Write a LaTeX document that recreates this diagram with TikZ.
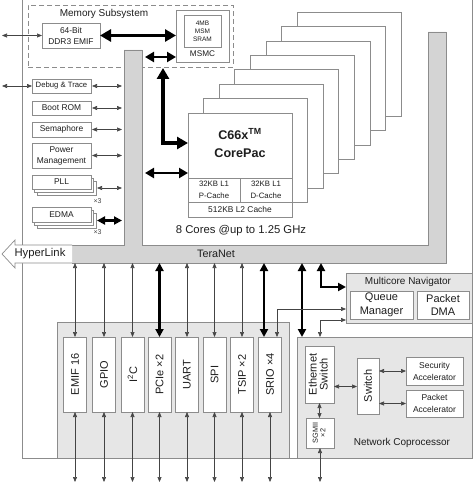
\documentclass[tikz,border=0pt]{standalone}
\usepackage{fontspec}
\setmainfont{Liberation Sans}
\usetikzlibrary{arrows.meta,calc}
\definecolor{linegray}{HTML}{8C8C8C}
\definecolor{bargray}{HTML}{D4D4D4}
\definecolor{panelgray}{HTML}{E6E6E6}
\definecolor{txt}{HTML}{1E1E1E}
\definecolor{arrgray}{HTML}{444444}
\newcommand\fsz[2]{\fontsize{#1}{#2}\selectfont}
\begin{document}
\begin{tikzpicture}[x=1pt,y=-1pt,
  box/.style={draw=linegray, line width=0.7pt, fill=white, inner sep=0pt, outer sep=0pt, align=center, text=txt, anchor=north west},
  panel/.style={draw=linegray, line width=0.7pt, fill=panelgray, inner sep=0pt, outer sep=0pt, anchor=north west},
  ghost/.style={inner sep=0pt, outer sep=0pt, anchor=north west},
  lbl/.style={text=txt, inner sep=0pt, align=center},
  thinarr/.style={draw=arrgray, line width=0.6pt, {Triangle[length=5pt,width=4pt]}-{Triangle[length=5pt,width=4pt]}},
  thkarr/.style={draw=black, line width=3.2pt, {Triangle[length=11pt,width=12pt]}-{Triangle[length=11pt,width=12pt]}},
  bigarr/.style={draw=black, line width=2.6pt, {Triangle[length=9pt,width=10pt]}-{Triangle[length=9pt,width=10pt]}},
  medarr/.style={draw=black, line width=2.2pt, {Triangle[length=8pt,width=8pt]}-{Triangle[length=8pt,width=8pt]}},
]
\useasboundingbox (0,0) rectangle (474,484);
\coordinate (extL) at (2,0);
\coordinate (bot) at (0,482);

% outer frame
\draw[linegray, line width=0.7pt] (22,0) -- (22,458) -- (472,458) -- (472,0);

% memory subsystem
\node[ghost, draw=linegray, dash pattern=on 5pt off 3pt, line width=0.9pt, minimum width=205pt, minimum height=62pt] (mem) at (28,5) {};
\node[lbl, font=\fsz{10}{12}] (memlbl) at (104,14) {Memory Subsystem};
\node[box, minimum width=58pt, minimum height=25pt, font=\fsz{8.4}{11}] (ddr) at (42,23) {64-Bit\\DDR3 EMIF};
\node[box, minimum width=53pt, minimum height=52pt] (msmc) at (176,10) {};
\node[box, minimum width=37pt, minimum height=32pt, font=\fsz{6.5}{8}] (sram) at (184,15) {4MB\\MSM\\SRAM};
\node[lbl, font=\fsz{8.2}{10}] (msmclbl) at (202.5,54) {MSMC};

% cores stack
\foreach \k in {7,6,...,1} {
  \node[box, minimum width=104pt, minimum height=104pt] (core\k) at ({188+15.6*\k},{113-14.4*\k}) {};
}
\node[box, minimum width=104pt, minimum height=104pt] (core) at (188,113) {};
\draw[linegray, line width=0.7pt] (188,178) -- (292,178) (188,202) -- (292,202) (240,178) -- (240,202);
\node[lbl, font=\bfseries\fsz{12.6}{18}] (corelbl) at (240,143) {C66x\textsuperscript{TM}\\CorePac};
\node[lbl, font=\fsz{7.8}{12.5}] (l1p) at (214,190) {32KB L1\\P-Cache};
\node[lbl, font=\fsz{7.8}{12.5}] (l1d) at (266,190) {32KB L1\\D-Cache};
\node[lbl, font=\fsz{8.4}{10}] (l2) at (240,209.5) {512KB L2 Cache};
\node[lbl, font=\fsz{11.3}{13}] (cores) at (241,231) {8 Cores @up to 1.25 GHz};

% TeraNet
\fill[bargray] (72,245) -- (124,245) -- (124,50) -- (142,50) -- (142,245) -- (428,245) -- (428,32) -- (446,32) -- (446,263) -- (72,263) -- cycle;
\draw[linegray, line width=0.7pt] (72,245) -- (124,245) -- (124,50) -- (142,50) -- (142,245) -- (428,245) -- (428,32) -- (446,32) -- (446,263) -- (72,263);
\node[ghost, minimum width=374pt, minimum height=18pt] (tn) at (72,245) {};
\node[ghost, minimum width=18pt, minimum height=213pt] (lbar) at (124,50) {};
\draw[draw=linegray, fill=white, line width=0.7pt] (72,245) -- (15,245) -- (15,240) -- (2,254) -- (15,268) -- (15,263) -- (72,263);
\node[lbl, font=\fsz{11.3}{13}] (hl) at (40,254) {HyperLink};
\node[lbl, font=\fsz{10.8}{13}] (tnlbl) at (216,254) {TeraNet};

% left boxes
\node[box, minimum width=59pt, minimum height=14pt, font=\fsz{7.7}{9}] (dbg) at (32,79) {Debug \& Trace};
\node[box, minimum width=59pt, minimum height=14pt, font=\fsz{8.4}{10}] (boot) at (32,101) {Boot ROM};
\node[box, minimum width=59pt, minimum height=15pt, font=\fsz{8.4}{10}] (sema) at (32,122) {Semaphore};
\node[box, minimum width=59pt, minimum height=25pt, font=\fsz{8.4}{11}] (pwr) at (32,143) {Power\\Management};
\node[box, minimum width=59pt, minimum height=14pt] (pll2) at (37,181) {};
\node[box, minimum width=59pt, minimum height=14pt] (pll1) at (34.5,178) {};
\node[box, minimum width=59pt, minimum height=14pt, font=\fsz{8.4}{10}] (pll) at (32,175) {PLL};
\node[lbl, text=arrgray, font=\fsz{7}{8}] (pllx) at (97.5,201) {×3};
\node[box, minimum width=59pt, minimum height=15pt] (edma2) at (37,213) {};
\node[box, minimum width=59pt, minimum height=15pt] (edma1) at (34.5,210) {};
\node[box, minimum width=59pt, minimum height=15pt, font=\fsz{8.4}{10}] (edma) at (32,207) {EDMA};
\node[lbl, text=arrgray, font=\fsz{7}{8}] (edmax) at (97.5,232) {×3};

% left arrows
\draw[thinarr] (ddr.west -| extL) -- (ddr.west);
\draw[thinarr] (dbg.west -| extL) -- (dbg.west);
\foreach \b in {dbg,boot,sema,pwr,pll2} {
  \draw[thinarr, shorten <=1pt, shorten >=2pt] (\b.east) -- (\b.east -| lbar.west);
}
\draw[medarr, shorten <=1pt, shorten >=2pt] (edma2.east) -- (edma2.east -| lbar.west);

% core / memory arrows
\draw[thkarr] (ddr.east) -- (ddr.east -| msmc.west);
\path ($(msmc.west)+(0,21)$) coordinate (m57);
\draw[bigarr, shorten <=3pt] (m57 -| lbar.east) -- (m57);
\path ($(core.west)+(0,-22)$) coordinate (c143);
\path ($(mem.south)+(32.5,1)$) coordinate (m163);
\draw[thkarr] (c143) -| (m163);
\path ($(core.west)+(0,8)$) coordinate (c173);
\draw[bigarr, shorten >=3pt] (c173) -- (c173 -| lbar.east);

% peripherals
\node[panel, minimum width=232pt, minimum height=136pt] (per) at (57,322) {};
\foreach \nm/\cx/\t in {emif/75/EMIF 16, gpio/104/GPIO, itc/132.5/I\textsuperscript{2}C, pcie/159.5/PCIe ×2, uart/187/UART, spi/214.5/SPI, tsip/242/TSIP ×2, srio/270/SRIO ×4} {
  \node[box, anchor=north, minimum width=23pt, minimum height=75pt, font=\fsz{11}{13}] (\nm) at (\cx,337) {\rotatebox{90}{\t}};
  \draw[thinarr] (\nm.south) -- (\nm.south |- bot);
}
\foreach \nm in {emif,gpio,itc,uart,spi,tsip} {
  \draw[thinarr] (\nm.north) -- (\nm.north |- tn.south);
}
\draw[medarr] (pcie.north) -- (pcie.north |- tn.south);
\path ($(srio.north)+(-6,0)$) coordinate (s264);
\draw[medarr] (s264) -- (s264 |- tn.south);

% multicore navigator
\node[panel, minimum width=126pt, minimum height=50pt] (nav) at (346,273) {};
\node[lbl, font=\fsz{10}{12}] (navlbl) at (408,282) {Multicore Navigator};
\node[box, minimum width=63pt, minimum height=28pt, font=\fsz{11}{13.5}] (qm) at (350,291) {Queue\\Manager};
\node[box, minimum width=52pt, minimum height=28pt, font=\fsz{11}{13.5}] (pdma) at (417,291) {Packet\\DMA};

% network coprocessor
\node[panel, minimum width=175pt, minimum height=121pt] (nc) at (297,337) {};
\node[lbl, font=\fsz{10}{12}] (nclbl) at (402,443) {Network Coprocessor};
\node[box, minimum width=29pt, minimum height=57pt, font=\fsz{11}{13}] (eth) at (305,346) {\rotatebox{90}{\begin{tabular}{@{}c@{}}Ethernet\\[-2pt]Switch\end{tabular}}};
\node[box, minimum width=28pt, minimum height=30pt, font=\fsz{7.3}{8.5}] (sgmii) at (306,418) {\rotatebox{90}{\begin{tabular}{@{}c@{}}SGMII\\[-1pt]×2\end{tabular}}};
\node[box, minimum width=22pt, minimum height=56pt, font=\fsz{11}{13}] (sw) at (357,358) {\rotatebox{90}{Switch}};
\node[box, minimum width=57pt, minimum height=28pt, font=\fsz{8.5}{12}] (sec) at (406,357) {Security\\Accelerator};
\node[box, minimum width=57pt, minimum height=27pt, font=\fsz{8.5}{12}] (pacc) at (406,390) {Packet\\Accelerator};

\draw[thinarr] (eth.south) -- (eth.south |- sgmii.north);
\draw[thinarr] (sgmii.south) -- (sgmii.south |- bot);
\path ($(eth.east)+(0,12)$) coordinate (e387);
\draw[thinarr] (e387) -- (e387 -| sw.west);
\draw[thinarr] (sec.west -| sw.east) -- (sec.west);
\draw[thinarr] (pacc.west -| sw.east) -- (pacc.west);

% connections to navigator / coprocessor
\path ($(nc.north west)+(5,0)$) coordinate (n302);
\draw[medarr] (n302) -- (n302 |- tn.south);
\path ($(tn.south -| nc.north west)+(24,0)$) coordinate (t321);
\draw[medarr] (t321) |- ($(nav.west)+(0,-11)$);
\draw[thinarr] ($(nc.north west)+(23,0)$) |- ($(nav.west)+(0,22)$);
\draw[thinarr] ($(srio.north)+(7,0)$) |- ($(nav.west)+(0,11)$);
\end{tikzpicture}
\end{document}
